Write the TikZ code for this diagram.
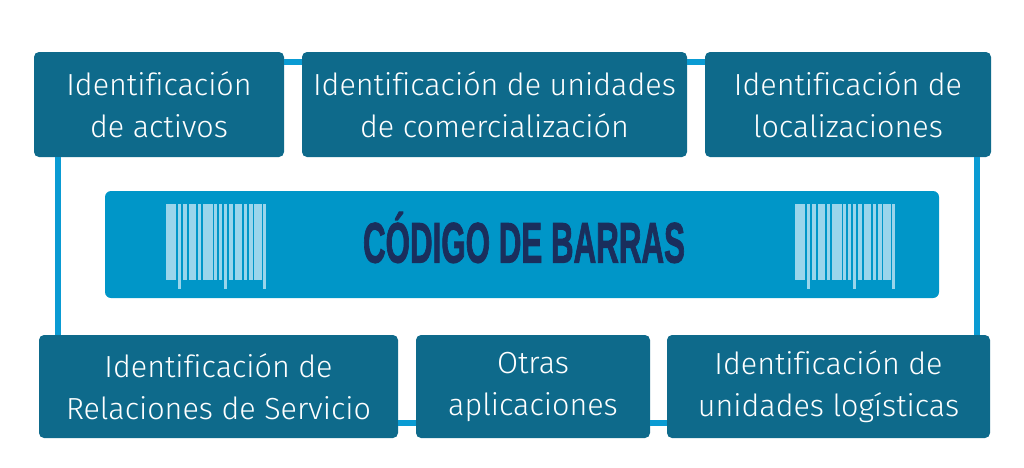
\documentclass[tikz,border=0pt]{standalone}
\usepackage{fontspec}
\setmainfont{Fira Sans Light}[Ligatures=NoCommon]
\newfontfamily\titlefont{Liberation Sans Bold}[FakeBold=2]
\definecolor{boxblue}{HTML}{0E6A8B}
\definecolor{bannerblue}{HTML}{0096C8}
\definecolor{linkblue}{HTML}{0A9BD3}
\definecolor{titlenavy}{HTML}{1A2E5C}
\definecolor{barlight}{HTML}{9AD5EB}
\tikzset{
  tile/.style={rectangle, rounded corners=5pt, fill=boxblue, text=white,
    inner sep=0pt, align=center, font=\fontsize{30.5}{42}\selectfont},
  conn/.style={draw=linkblue, line width=6pt},
  barcode/.pic={
    \foreach \a/\b/\c in {0/10/280,12/15.3/289,17.3/20.7/280,22.7/30/280,32/35.3/280,
      37.3/46.7/280,48/51.3/280,53/56.3/280,58/61.3/289,63.3/66.7/280,68.7/76/280,
      78/81.3/280,83.3/86.7/280,88.3/96/280,96.7/100/289}
      {\fill[barlight] (\a,204) rectangle (\b,\c);}
  }
}
\begin{document}
\begin{tikzpicture}[x=1pt,y=-1pt]
\useasboundingbox (0,0) rectangle (1024,467);
\node[tile, minimum width=250pt, minimum height=105pt] (b1) at (159,104.5) {Identificación\\de activos};
\node[tile, minimum width=385pt, minimum height=105pt] (b2) at (494.5,104.5) {Identificación de unidades\\de comercialización};
\node[tile, minimum width=286pt, minimum height=105pt] (b3) at (848,104.5) {Identificación de\\localizaciones};
\node[tile, minimum width=359pt, minimum height=103pt] (b4) at (218.5,386.5) {Identificación de\\Relaciones de Servicio};
\node[tile, minimum width=234pt, minimum height=103pt] (b5) at (533,386.5) {Otras\\aplicaciones};
\node[tile, minimum width=323pt, minimum height=103pt] (b6) at (828.5,386.5) {Identificación de\\unidades logísticas};
\draw[conn] ([yshift=-10pt]b1.north east) -- ([yshift=-10pt]b2.north west);
\draw[conn] ([yshift=-10pt]b2.north east) -- ([yshift=-10pt]b3.north west);
\draw[conn] ([xshift=24.5pt]b1.south west) -- ([xshift=24.5pt]b1.south west |- b4.north);
\draw[conn] ([xshift=-14pt]b3.south east) -- ([xshift=-14pt]b3.south east |- b6.north);
\draw[conn] ([yshift=15pt]b4.south east) -- ([yshift=15pt]b5.south west);
\draw[conn] ([yshift=15pt]b5.south east) -- ([yshift=15pt]b6.south west);
\node[rectangle, rounded corners=6pt, fill=bannerblue, minimum width=834pt, minimum height=107pt, inner sep=0pt] (banner) at (522,244.5) {};
\pic at (166,0) {barcode};
\pic at (795,0) {barcode};
\node[anchor=base, inner sep=0pt, text=titlenavy, font=\titlefont\fontsize{57}{62}\selectfont] (title) at (524,262.5) {\resizebox{322pt}{\height}{CÓDIGO DE BARRAS}};
\end{tikzpicture}
\end{document}
